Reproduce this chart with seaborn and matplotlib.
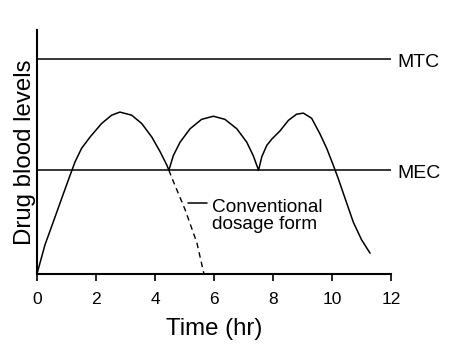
import matplotlib
matplotlib.use("Agg")
import matplotlib.pyplot as plt
import seaborn as sns
import pandas as pd

# sustained-release drug level curve
time_hr = [0.0, 0.27, 0.55, 0.84, 1.12, 1.29, 1.51, 1.80, 2.19, 2.53, 2.81, 3.21,
           3.55, 3.89, 4.17, 4.40, 4.47,
           4.62, 4.85, 5.19, 5.58, 5.98, 6.37, 6.77, 7.11, 7.33, 7.51,
           7.62, 7.79, 7.96, 8.24, 8.52, 8.80, 9.03, 9.31, 9.59, 9.82, 10.04,
           10.21, 10.44, 10.72, 11.00, 11.29]
level = [0.0, 0.28, 0.50, 0.73, 0.95, 1.08, 1.21, 1.32, 1.45, 1.53, 1.56, 1.53,
         1.45, 1.32, 1.18, 1.05, 1.0,
         1.14, 1.27, 1.40, 1.49, 1.52, 1.49, 1.40, 1.27, 1.14, 1.0,
         1.13, 1.24, 1.30, 1.38, 1.48, 1.54, 1.55, 1.50, 1.35, 1.21, 1.05,
         0.92, 0.73, 0.50, 0.33, 0.20]

# conventional dosage form decay (dashed)
conv_time = [4.47, 4.61, 5.02, 5.42, 5.66]
conv_level = [1.0, 0.90, 0.62, 0.30, 0.0]

mtc_level = 2.07
mec_level = 1.0
line_x = [0, 12]
x_ticks = [0, 2, 4, 6, 8, 10, 12]

sns.set_theme(style="ticks")
plt.rcParams["font.family"] = ["Liberation Sans", "DejaVu Sans"]
plt.rcParams["text.color"] = "black"

fig = plt.figure(figsize=(4.74, 3.54), dpi=100)
ax = fig.add_axes([0.078, 0.226, 0.747, 0.689])

curve = pd.DataFrame({"t": time_hr, "c": level})
sns.lineplot(data=curve, x="t", y="c", sort=False, estimator=None,
             color="black", linewidth=1.1, ax=ax)
conv = pd.DataFrame({"t": conv_time, "c": conv_level})
sns.lineplot(data=conv, x="t", y="c", sort=False, estimator=None,
             color="black", linewidth=1.0, linestyle=(0, (4, 3)), ax=ax)

for lvl, name in [(mtc_level, "MTC"), (mec_level, "MEC")]:
    sns.lineplot(x=line_x, y=[lvl, lvl], color="black", linewidth=1.1, ax=ax)
    ax.text(12.2, lvl - 0.03, name, fontsize=14, va="center", ha="left",
            color="black", clip_on=False)

# pointer + label for the conventional dosage form
ax.plot([5.13, 5.76], [0.68, 0.68], color="black", linewidth=1.1)
ax.text(5.93, 0.56, "Conventional\ndosage form", fontsize=13.7, va="center",
        ha="left", linespacing=1.0, color="black")

ax.set_xlim(0, 12)
ax.set_ylim(0, 2.35)
ax.set_xticks(x_ticks)
ax.set_xticklabels([str(v) for v in x_ticks], fontsize=12.5)
ax.set_yticks([])
ax.tick_params(axis="x", direction="out", length=5, width=1.2, pad=8,
               colors="black", labelcolor="black")
ax.set_xlabel("Time (hr)", fontsize=17.3, labelpad=8, color="black")
ax.set_ylabel("Drug blood levels", fontsize=17.3, labelpad=1, color="black")
sns.despine(ax=ax)
for sp in ("left", "bottom"):
    ax.spines[sp].set_linewidth(1.5)
    ax.spines[sp].set_color("black")

fig.savefig("out.png", dpi=100)
